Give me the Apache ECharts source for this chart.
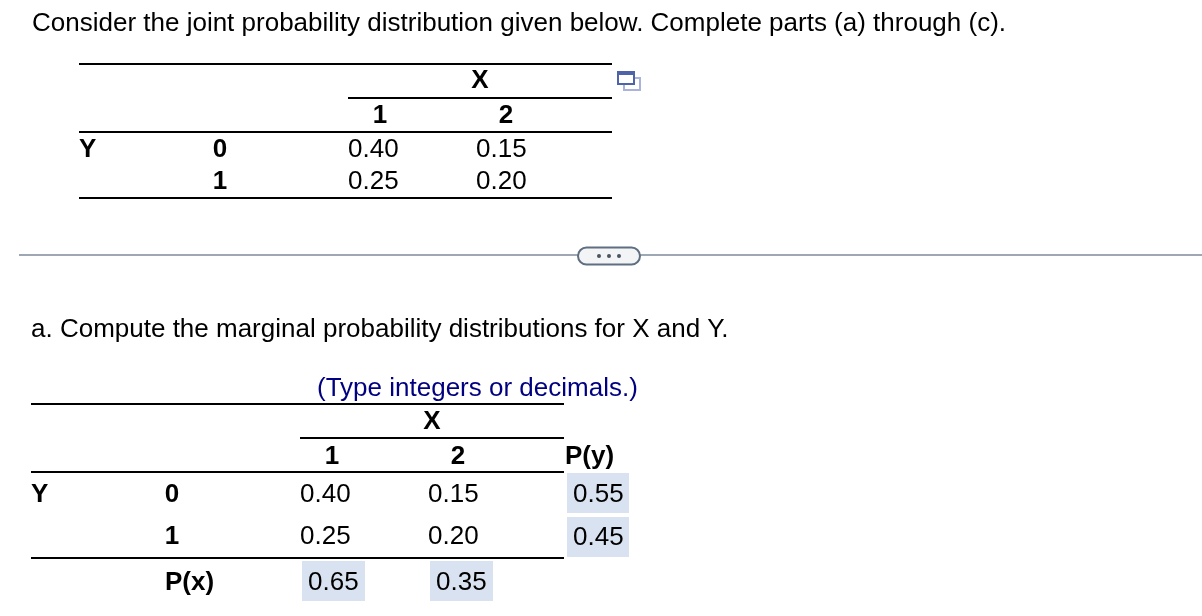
<!DOCTYPE html>
<html><head><meta charset="utf-8">
<style>html,body{margin:0;padding:0;background:#fff}#c{width:1202px;height:616px}</style>
<script src="https://cdn.jsdelivr.net/npm/echarts@6/dist/echarts.min.js"></script>
</head><body><div id="c"></div>
<script>
const questionText = "Consider the joint probability distribution given below. Complete parts (a) through (c).";
const partText = "a. Compute the marginal probability distributions for X and Y.";
const hintText = "(Type integers or decimals.)";
const xName = "X", yName = "Y";
const xCategories = ["1", "2"];
const yCategories = ["0", "1"];
const jointRow0 = ["0.40", "0.15"];
const jointRow1 = ["0.25", "0.20"];
const marginalY = ["0.55", "0.45"];
const marginalX = ["0.65", "0.35"];
const pxLabel = "P(x)", pyLabel = "P(y)";

const FONT = '"Liberation Sans", Arial, sans-serif';
const SIZE = 26, BLACK = "#000000", BOX = "#d9e2f0";
const els = [];
function txt(s, x, y, o) {
  o = o || {};
  els.push({type:"text", z:5, x:x, y:y+2, style:{text:s, fill:o.fill||BLACK,
    font:(o.bold?"bold ":"")+(o.size||SIZE)+"px "+FONT, textAlign:o.align||"left", textVerticalAlign:"middle", textBaseline:"middle"}});
}
function hline(x1,x2,y,color,w){
  els.push({type:"line", z:3, shape:{x1:x1,y1:y,x2:x2,y2:y}, style:{stroke:color||BLACK, lineWidth:w||2}});
}
function box(x,y,w,h){ els.push({type:"rect", z:1, shape:{x:x,y:y,width:w,height:h}, style:{fill:BOX}}); }

txt(questionText, 32, 22);
// first table
hline(79,612,64); hline(348,612,98); hline(79,612,132); hline(79,612,198);
txt(xName, 480, 79, {bold:true, align:"center"});
txt(xCategories[0], 380, 114, {bold:true, align:"center"});
txt(xCategories[1], 506, 114, {bold:true, align:"center"});
txt(yName, 79, 148, {bold:true});
txt(yCategories[0], 220, 148, {bold:true, align:"center"});
txt(yCategories[1], 220, 180, {bold:true, align:"center"});
txt(jointRow0[0], 348, 148); txt(jointRow0[1], 476, 148);
txt(jointRow1[0], 348, 180); txt(jointRow1[1], 476, 180);
// icon
els.push({type:"rect", z:2, shape:{x:624,y:78,width:16,height:12}, style:{fill:"#fff", stroke:"#aab3da", lineWidth:2}});
els.push({type:"rect", z:3, shape:{x:618,y:72,width:16,height:12}, style:{fill:"#fff", stroke:"#4f63a9", lineWidth:2}});
els.push({type:"rect", z:4, shape:{x:617,y:71,width:18,height:4}, style:{fill:"#4f63a9"}});
// divider
hline(19,1202,255,"#7f8a9b",1.5);
els.push({type:"rect", z:4, shape:{x:578,y:247.5,width:62,height:17,r:8.5}, style:{fill:"#f3f4f6", stroke:"#5f6e80", lineWidth:2}});
[599,609,619].forEach(x=>els.push({type:"circle", z:5, shape:{cx:x,cy:256,r:2}, style:{fill:"#4a5563"}}));
// part a
txt(partText, 31, 328);
txt(hintText, 317, 387, {fill:"#000080"});
hline(31,564,404); hline(300,564,438); hline(31,564,472); hline(31,564,558);
txt(xName, 432, 420, {bold:true, align:"center"});
txt(xCategories[0], 332, 455, {bold:true, align:"center"});
txt(xCategories[1], 458, 455, {bold:true, align:"center"});
txt(pyLabel, 565, 455, {bold:true});
txt(yName, 31, 493, {bold:true});
txt(yCategories[0], 172, 493, {bold:true, align:"center"});
txt(yCategories[1], 172, 535, {bold:true, align:"center"});
txt(pxLabel, 165, 581, {bold:true});
txt(jointRow0[0], 300, 493); txt(jointRow0[1], 428, 493);
txt(jointRow1[0], 300, 535); txt(jointRow1[1], 428, 535);
box(567,473,62,40); box(567,517,62,40); box(302,561,63,40); box(430,561,63,40);
txt(marginalY[0], 573, 493); txt(marginalY[1], 573, 536);
txt(marginalX[0], 308, 581); txt(marginalX[1], 436, 581);

const chart = echarts.init(document.getElementById("c"), null, {renderer:"canvas", width:1202, height:616});
chart.setOption({animation:false, backgroundColor:"#fff", graphic:{elements:els}});
</script></body></html>
